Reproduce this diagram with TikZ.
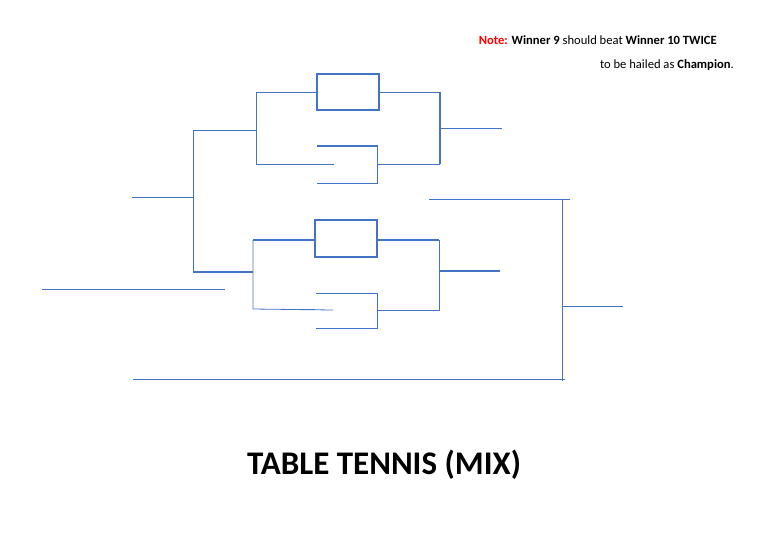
\documentclass[tikz,border=0pt]{standalone}
\usepackage{fontspec}
\setmainfont{Carlito}
\definecolor{lb}{HTML}{4472C4}
\definecolor{nr}{HTML}{FF0000}
\begin{document}
\begin{tikzpicture}[x=1pt,y=-1pt,
  ln/.style={draw=lb,line width=0.8pt},
  tk/.style={draw=lb,line width=1.4pt}]
\useasboundingbox (0,0) rectangle (768,543);
% top group
\draw[tk] (317,74) rectangle (379,110);
\draw[ln] (256,92) -- (317,92) (379,92) -- (440,92);
\draw[ln] (256,92) -- (256,164) -- (334,164);
\draw[tk] (440,92) -- (440,164);
\draw[ln] (377,164) -- (440,164);
\draw[tk] (317,146) -- (378,146);
\draw[ln] (377,146) -- (377,183) -- (317,183);
\draw[ln] (440,128) -- (502,128);
\draw[ln] (193,130) -- (256,130);
\draw[ln] (193,130) -- (193,272);
\draw[ln] (132,197) -- (193,197);
% lower group
\draw[tk] (315,220) rectangle (377,257);
\draw[tk] (253,240) -- (315,240) (377,240) -- (439,240);
\draw[ln] (253,240) -- (253,309) -- (333,310);
\draw[ln] (298,309) -- (315,309);
\draw[ln] (439,240) -- (439,310) -- (377,310);
\draw[tk] (193,272) -- (253,272);
\draw[tk] (439,271) -- (500,271);
\draw[ln] (316,293) -- (377,293) -- (377,328) -- (316,328);
\draw[ln] (42,289) -- (225,289);
% final
\draw[ln] (429,199) -- (570,199);
\draw[ln] (562,199) -- (562,381);
\draw[ln] (133,379) -- (565,379);
\draw[ln] (562,306) -- (623,306);
% texts
\node[anchor=base east,font=\fontsize{12.6}{15}\selectfont,inner sep=0] (n1) at (717,45) {\textcolor{nr}{\textbf{Note:}} \textbf{Winner 9} should beat \textbf{Winner 10 TWICE}};
\node[anchor=base east,font=\fontsize{12.6}{15}\selectfont,inner sep=0] (n2) at (734,69) {to be hailed as \textbf{Champion}.};
\node[font=\fontsize{33}{38}\selectfont\bfseries] (title) at (384,465) {TABLE TENNIS (MIX)};
\end{tikzpicture}
\end{document}
